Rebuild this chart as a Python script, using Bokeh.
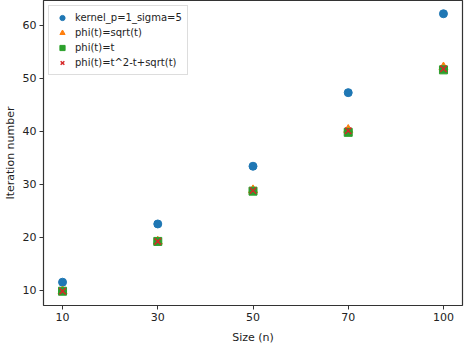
from bokeh.plotting import figure
from bokeh.models import FixedTicker, Range1d, Legend, LegendItem
from bokeh.embed import file_html
from bokeh.resources import INLINE

sizes = ["10", "30", "50", "70", "100"]
kernel_p1_sigma5 = [11.5, 22.5, 33.4, 47.3, 62.2]
phi_sqrt = [9.8, 19.2, 28.9, 40.3, 52.1]
phi_t = [9.8, 19.2, 28.7, 39.8, 51.6]
phi_t2 = [9.8, 19.2, 28.8, 40.1, 51.8]
y_ticks = [10, 20, 30, 40, 50, 60]

xs = list(range(len(sizes)))

p = figure(width=464, height=346, output_backend="svg", toolbar_location=None,
           x_range=Range1d(-0.2, len(sizes) - 1 + 0.2), y_range=Range1d(7.1, 64.7),
           min_border_left=30, min_border_right=2, min_border_top=0, min_border_bottom=34)

p.xgrid.visible = False
p.ygrid.visible = False
p.outline_line_color = "#333333"
p.outline_line_width = 1.2
p.outline_line_alpha = 1

r1 = p.scatter(xs, kernel_p1_sigma5, marker="circle", size=8, color="#1f77b4")
r2 = p.scatter(xs, phi_sqrt, marker="triangle", size=9, color="#ff7f0e")
r3 = p.scatter(xs, phi_t, marker="square", size=8, color="#2ca02c")
r4 = p.scatter(xs, phi_t2, marker="x", size=9, line_color="#d62728", line_width=1.5)

p.xaxis.ticker = FixedTicker(ticks=xs)
p.xaxis.major_label_overrides = {i: s for i, s in enumerate(sizes)}
p.yaxis.ticker = FixedTicker(ticks=y_ticks)
p.xaxis.axis_label = "Size (n)"
p.yaxis.axis_label = "Iteration number"

for ax in (p.xaxis[0], p.yaxis[0]):
    ax.major_label_text_font = "DejaVu Sans"
    ax.major_label_text_font_size = "11px"
    ax.major_label_text_color = "#222222"
    ax.axis_label_text_font = "DejaVu Sans"
    ax.axis_label_text_font_size = "11px"
    ax.axis_label_text_font_style = "normal"
    ax.axis_label_text_color = "#222222"
    ax.axis_line_color = None
    ax.minor_tick_line_color = None
    ax.major_tick_out = 4
    ax.major_tick_in = 0
    ax.major_tick_line_color = "#333333"
    ax.major_label_standoff = 3
    ax.axis_label_standoff = 3
p.xaxis.axis_label_standoff = 7

legend = Legend(items=[
    LegendItem(label="kernel_p=1_sigma=5", renderers=[r1]),
    LegendItem(label="phi(t)=sqrt(t)", renderers=[r2]),
    LegendItem(label="phi(t)=t", renderers=[r3]),
    LegendItem(label="phi(t)=t^2-t+sqrt(t)", renderers=[r4]),
], location="top_left")
legend.label_text_font = "DejaVu Sans"
legend.label_text_font_size = "10px"
legend.label_text_color = "#222222"
legend.label_height = 13
legend.glyph_height = 13
legend.glyph_width = 16
legend.spacing = 2
legend.padding = 5
legend.margin = 5
legend.border_line_color = "#dddddd"
legend.border_line_alpha = 1
legend.background_fill_alpha = 0.85
p.add_layout(legend)

open("out.html", "w").write(file_html(p, INLINE))
